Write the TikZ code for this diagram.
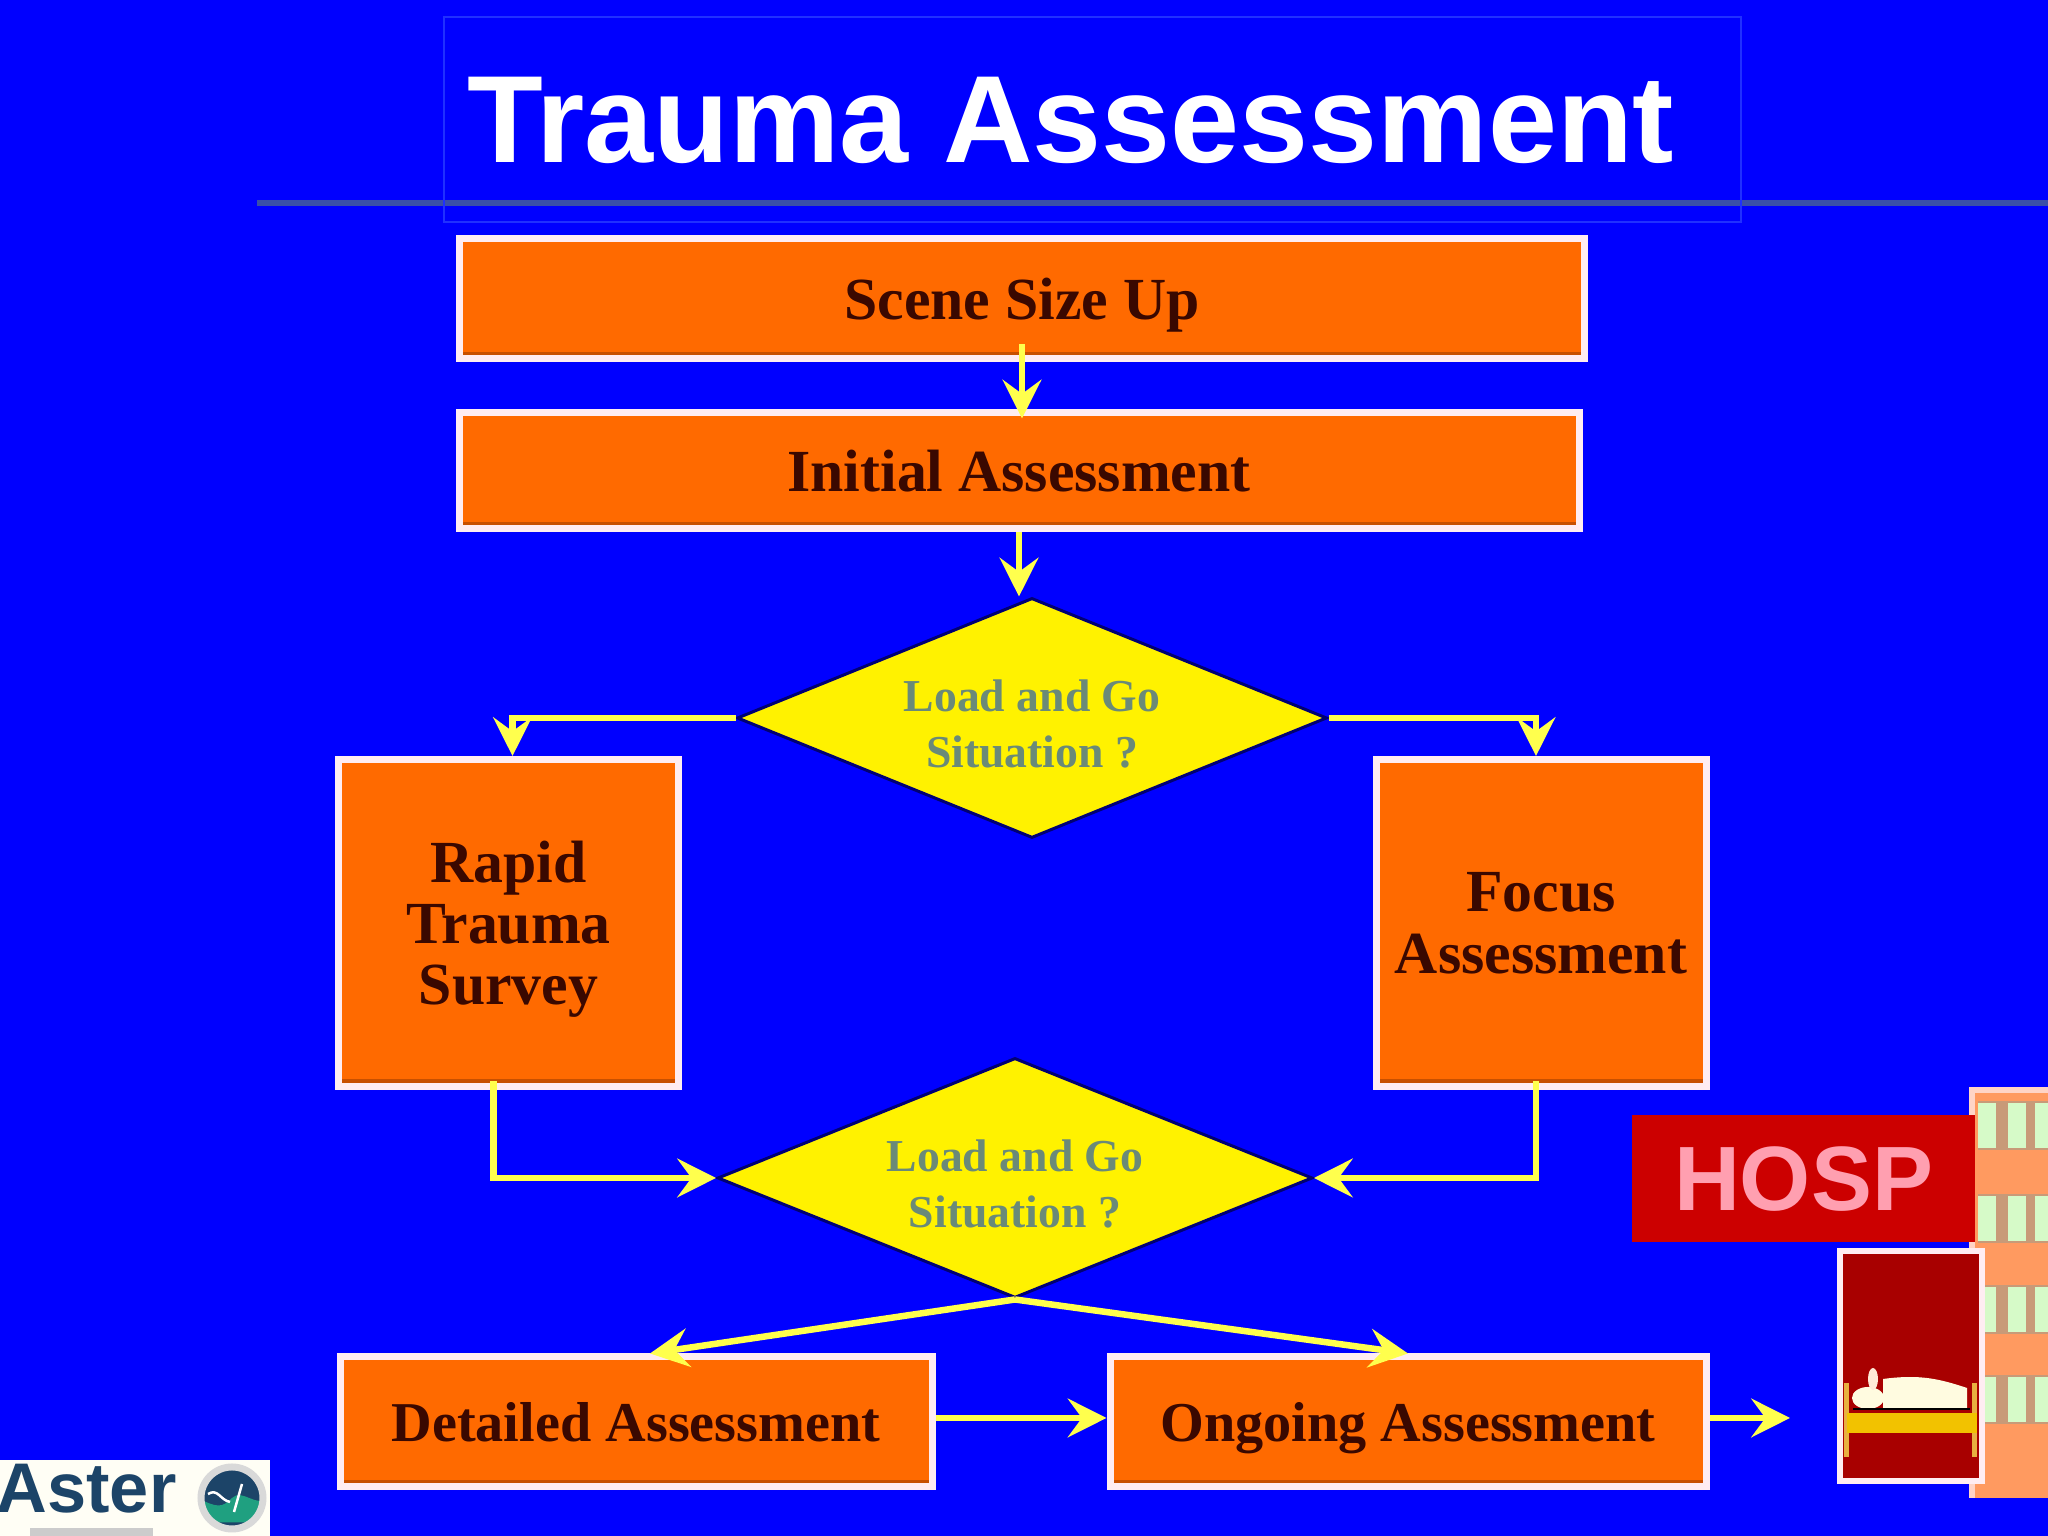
\documentclass[tikz,border=0pt]{standalone}
\usepackage{fontspec}
\setmainfont{Liberation Serif}
\setsansfont{Liberation Sans}
\usepackage{xcolor}
\usetikzlibrary{arrows.meta,shapes.geometric}
\definecolor{slideblue}{HTML}{0000FF}
\definecolor{titleline}{HTML}{3A4FA8}
\definecolor{titleedge}{HTML}{2030FF}
\definecolor{boxorange}{HTML}{FF6A00}
\definecolor{boxshade}{HTML}{C85000}
\definecolor{boxedge}{HTML}{FFEDF2}
\definecolor{boxtext}{HTML}{3A0800}
\definecolor{decisiontext}{HTML}{6A8A78}
\definecolor{arrowyellow}{HTML}{FFFF4D}
\definecolor{hospred}{HTML}{CC0000}
\definecolor{hosppink}{HTML}{FF9FB0}
\definecolor{wallorange}{HTML}{FF9A60}
\definecolor{wallshade}{HTML}{C89A78}
\definecolor{windowgreen}{HTML}{D6FAC8}
\definecolor{roomred}{HTML}{A80000}
\definecolor{bedgold}{HTML}{F2C200}
\definecolor{bedpost}{HTML}{E8B040}
\definecolor{sheetcream}{HTML}{FFFBE0}
\definecolor{logoink}{HTML}{1C4468}
\definecolor{logogreen}{HTML}{1FA080}
\begin{document}
\begin{tikzpicture}[
  box/.style={rectangle, draw=boxedge, line width=.07cm, fill=boxorange, text=boxtext,
    font=\fontsize{17}{17.4}\selectfont\bfseries, align=center, inner sep=0pt, text depth=0pt,
    path picture={\fill[boxshade] (path picture bounding box.south west) rectangle
      ([yshift=.07cm]path picture bounding box.south east);}},
  lowbox/.style={box, font=\fontsize{16}{17.4}\selectfont\bfseries, minimum height=1.3cm},
  decision/.style={diamond, draw=blue!45!black, line width=.03cm, fill=yellow, text=decisiontext,
    font=\fontsize{13}{16}\selectfont\bfseries, align=center, inner sep=0pt, aspect=2.46,
    text height=.99cm, text depth=0pt, minimum width=5.9cm, minimum height=2.4cm},
  arr/.style={-{Stealth[length=11pt,width=11pt,inset=4pt]}, line width=.065cm, arrowyellow},
]
  \useasboundingbox[fill=slideblue] (0, 0) rectangle (20.48, 15.36);

  % Title
  \draw[titleline, line width=.06cm] (2.57, 13.33) coordinate (rulestart) -- (20.48, 13.33) coordinate (ruleend);
  \node[draw=titleedge, line width=.02cm, minimum width=12.97cm, minimum height=2.05cm] (titlebox) at (10.92, 14.16) {};
  \node[anchor=base, text=white, font=\fontsize{35.3}{38}\selectfont\sffamily\bfseries] (title) at (10.71, 13.73) {Trauma Assessment};

  % Hospital
  \fill[wallorange] (19.72, 4.46) rectangle (20.48, 0.38);
  \draw[boxedge!70!wallorange, line width=.06cm] (19.72, 0.38) -- (19.72, 4.46) -- (20.48, 4.46);
  \foreach \winy in {11.03, 11.96, 12.87, 13.77} {
    \fill[wallshade] (19.78, 15.36-\winy+.02) rectangle (20.48, 15.36-\winy-.47);
    \foreach \winx in {19.78, 20.08, 20.35}
      \fill[windowgreen] (\winx, 15.36-\winy) rectangle (\winx+.18, 15.36-\winy-.45);
  }
  \node[rectangle, fill=hospred, text=hosppink, minimum width=3.43cm, minimum height=1.27cm,
    font=\fontsize{26}{28}\selectfont\sffamily\bfseries] (hosp) at (18.035, 3.57) {HOSP};
  \node[rectangle, draw=boxedge, line width=.06cm, fill=roomred, minimum width=1.42cm, minimum height=2.3cm] (room) at (19.105, 1.70) {};

  % Bed
  \fill[sheetcream] (18.83, 1.28) -- (18.83, 1.57) .. controls (19.2, 1.62) and (19.4, 1.57) .. (19.67, 1.48) -- (19.67, 1.28) -- cycle;
  \fill[sheetcream] (18.68, 1.38) ellipse (.16 and .11);
  \fill[sheetcream!80!hosppink] (18.73, 1.57) ellipse (.05 and .11);
  \draw[black, line width=.02cm] (18.53, 1.27) -- (19.7, 1.27);
  \draw[bedpost, line width=.05cm] (18.46, 1.53) -- (18.46, .79);
  \draw[bedpost, line width=.05cm] (19.74, 1.53) -- (19.74, .79);
  \fill[bedgold] (18.47, 1.23) rectangle (19.77, 1.03);

  % Flow
  \node[box, minimum width=11.25cm, minimum height=1.2cm] (scene) at (10.22, 12.37) {Scene Size Up};
  \node[box, minimum width=11.2cm, minimum height=1.16cm] (init) at (10.19, 10.65) {Initial Assessment};
  \node[decision] (loadone) at (10.32, 8.18) {Load and Go\\Situation ?};
  \node[box, minimum width=3.4cm, minimum height=3.27cm] (rapid) at (5.085, 6.13) {Rapid\\Trauma\\Survey};
  \node[box, minimum width=3.3cm, minimum height=3.27cm] (focus) at (15.41, 6.13) {Focus\\Assessment};
  \node[decision, minimum width=5.95cm] (loadtwo) at (10.15, 3.58) {Load and Go\\Situation ?};
  \node[lowbox, minimum width=5.92cm] (detail) at (6.36, 1.14) {Detailed Assessment};
  \node[lowbox, minimum width=5.96cm] (ongoing) at (14.08, 1.14) {Ongoing Assessment};
  \coordinate (bedin) at (17.9, 1.18);

  % Aster logo
  \fill[white!96!yellow] (0, 0) rectangle (2.7, .76);
  \node[anchor=base west, text=logoink, inner sep=0pt, font=\fontsize{20}{21}\selectfont\sffamily\bfseries] (aster) at (-.04, .23) {Aster};
  \fill[gray!40] (.3, 0) rectangle (1.53, .08);
  \node[circle, draw=gray!30, line width=.07cm, minimum size=.62cm, inner sep=0pt, fill=logoink,
    path picture={
      \fill[logogreen] (asterseal.west) .. controls ++(.2, -.1) and ++(-.1, -.1) .. (asterseal.center)
        .. controls ++(.1, .1) and ++(-.1, -.1) .. (asterseal.east) -- (asterseal.south east) -- (asterseal.south west) -- cycle;
      \draw[white, line width=.025cm] ([xshift=-.24cm,yshift=.04cm]asterseal.center) .. controls ++(.1, .06) and ++(-.1, .02) .. ([xshift=-.02cm,yshift=-.04cm]asterseal.center);
      \draw[white, line width=.025cm] ([xshift=.02cm,yshift=-.14cm]asterseal.center) -- ([xshift=.1cm,yshift=.14cm]asterseal.center);
    }] (asterseal) at (2.32, .38) {};

  \draw[arr, shorten <=-.18cm, shorten >=-.09cm] (scene.south) -- (scene.south |- init.north);
  \draw[arr] (init.south) -- (init.south |- loadone.north);
  \draw[arr] (loadone.west) -| ([xshift=.04cm]rapid.north);
  \draw[arr] (loadone.east) -| ([xshift=-.05cm]focus.north);
  \draw[arr, shorten <=-.09cm] ([xshift=-.15cm]rapid.south) |- (loadtwo.west);
  \draw[arr, shorten <=-.09cm] ([xshift=-.05cm]focus.south) |- (loadtwo.east);
  \draw[arr] (loadtwo.south) -- ([xshift=.14cm]detail.north);
  \draw[arr] (loadtwo.south) -- (ongoing.north);
  \draw[arr] (detail.east |- bedin) -- (ongoing.west |- bedin);
  \draw[arr] (ongoing.east |- bedin) -- (bedin);
\end{tikzpicture}
\end{document}
